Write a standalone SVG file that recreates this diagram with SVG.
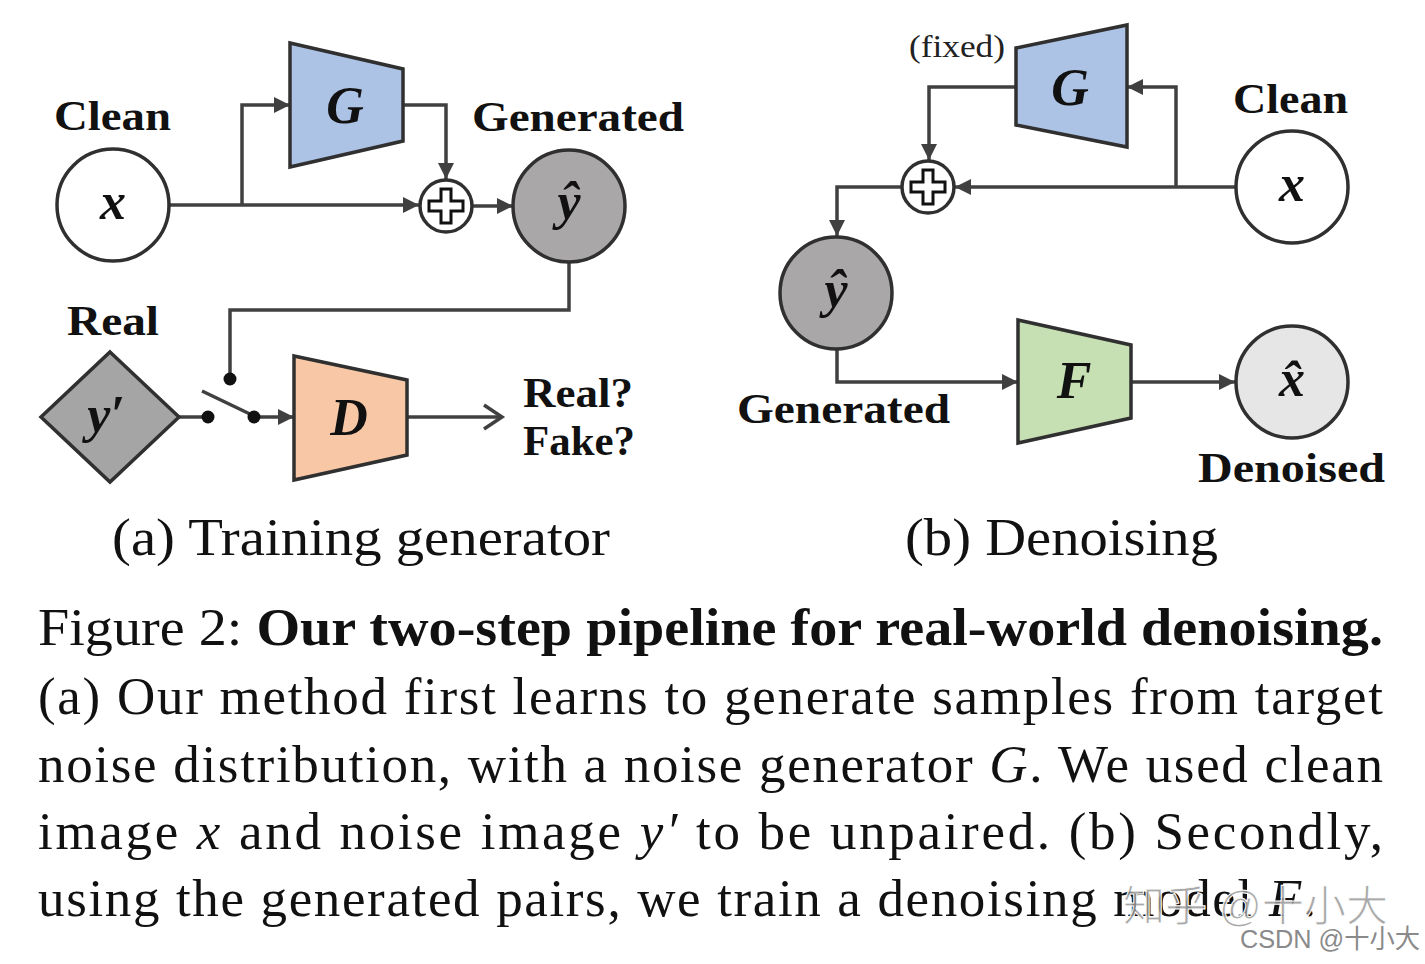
<svg xmlns="http://www.w3.org/2000/svg" width="1425" height="964" viewBox="0 0 1425 964">
<style>
.ln{fill:none;stroke:#404040;stroke-width:3.5}
.ar{fill:none;stroke:#404040;stroke-width:3.5;marker-end:url(#ah)}
.nd{stroke:#303030;stroke-width:3.5}
.lbl{font-family:"Liberation Serif",serif;font-weight:bold;font-size:42px;fill:#111}
.math{font-family:"Liberation Serif",serif;font-weight:bold;font-style:italic;font-size:52px;fill:#111;text-anchor:middle}
.sub{font-family:"Liberation Serif",serif;font-size:53px;fill:#111}
.cap{font-family:"Liberation Serif",serif;font-size:53px;fill:#111}
.it{font-style:italic}
.dot{fill:#111}
</style>
<defs>
<marker id="ah" markerUnits="userSpaceOnUse" markerWidth="18" markerHeight="18" refX="16" refY="8" orient="auto"><path d="M0,0 L16,8 L0,16 z" fill="#404040"/></marker>
<marker id="oh" markerUnits="userSpaceOnUse" markerWidth="24" markerHeight="30" refX="20" refY="14" orient="auto"><path d="M2,2 L20,14 L2,26" fill="none" stroke="#404040" stroke-width="3.5"/></marker>
<path id="plus" d="M-5,-17 H5 V-5 H17 V5 H5 V17 H-5 V5 H-17 V-5 H-5 z" fill="#fff" stroke="#111" stroke-width="3"/>
</defs>

<g id="connectors">
<path class="ar" d="M168,205 H419"/>
<path class="ar" d="M242,205 V105 H290"/>
<path class="ar" d="M403,105 H446 V179"/>
<path class="ar" d="M473,206 H513"/>
<path class="ln" d="M569,261 V310 H230 V378"/>
<path class="ln" d="M179,417 H208"/>
<path class="ln" d="M202,391 L252,415"/>
<path class="ar" d="M254,417 H294"/>
<path class="ln" d="M407,417 H502" marker-end="url(#oh)"/>
<path class="ar" d="M1237,187 H955"/>
<path class="ar" d="M1176,187 V87 H1127"/>
<path class="ar" d="M1016,87 H929 V160"/>
<path class="ar" d="M901,187 H837 V236"/>
<path class="ar" d="M837,349 V382 H1018"/>
<path class="ar" d="M1131,382 H1235"/>
</g>

<g id="dots">
<circle class="dot" cx="230" cy="379" r="6.5"/>
<circle class="dot" cx="208" cy="417" r="6.5"/>
<circle class="dot" cx="254" cy="417" r="6.5"/>
</g>

<g id="clean-a">
<text class="lbl" x="54" y="130" textLength="117" lengthAdjust="spacingAndGlyphs">Clean</text>
<circle class="nd" cx="113" cy="205" r="56" fill="#fff"/>
<text class="math" x="113" y="219">x</text>
</g>

<g id="G-a">
<path class="nd" d="M290,43 L403,69 L403,141 L290,167 z" fill="#adc3e6"/>
<text class="math" x="345" y="123">G</text>
</g>

<g id="plus-a">
<circle class="nd" cx="446" cy="206" r="26" fill="#fff"/>
<use href="#plus" x="446" y="206"/>
</g>

<g id="yhat-a">
<text class="lbl" x="472" y="131" textLength="212" lengthAdjust="spacingAndGlyphs">Generated</text>
<circle class="nd" cx="569" cy="206" r="56" fill="#a9a7a7"/>
<text class="math" x="569" y="219">ŷ</text>
</g>

<g id="real-a">
<text class="lbl" x="67" y="335" textLength="92" lengthAdjust="spacingAndGlyphs">Real</text>
<path class="nd" d="M110,352 L179,417 L110,482 L41,417 z" fill="#a5a5a5"/>
<text class="math" x="106" y="432">y′</text>
</g>

<g id="D-a">
<path class="nd" d="M294,356 L407,380 L407,455 L294,480 z" fill="#f8c8a6"/>
<text class="math" x="349" y="435">D</text>
<text class="lbl" x="523" y="407" textLength="110" lengthAdjust="spacingAndGlyphs">Real?</text>
<text class="lbl" x="523" y="455" textLength="112" lengthAdjust="spacingAndGlyphs">Fake?</text>
</g>

<g id="G-b">
<text x="909" y="57" font-family="Liberation Serif, serif" font-size="31" fill="#222" textLength="96" lengthAdjust="spacingAndGlyphs">(fixed)</text>
<path class="nd" d="M1016,48 L1127,25 L1127,147 L1016,125 z" fill="#adc3e6"/>
<text class="math" x="1070" y="105">G</text>
</g>

<g id="clean-b">
<text class="lbl" x="1233" y="113" textLength="115" lengthAdjust="spacingAndGlyphs">Clean</text>
<circle class="nd" cx="1292" cy="187" r="56" fill="#fff"/>
<text class="math" x="1292" y="201">x</text>
</g>

<g id="plus-b">
<circle class="nd" cx="928" cy="187" r="26" fill="#fff"/>
<use href="#plus" x="928" y="187"/>
</g>

<g id="yhat-b">
<circle class="nd" cx="836" cy="293" r="56" fill="#a9a7a7"/>
<text class="math" x="836" y="307">ŷ</text>
<text class="lbl" x="737" y="423" textLength="213" lengthAdjust="spacingAndGlyphs">Generated</text>
</g>

<g id="F-b">
<path class="nd" d="M1018,320 L1131,345 L1131,418 L1018,443 z" fill="#c6e0b4"/>
<text class="math" x="1074" y="398">F</text>
</g>

<g id="xhat-b">
<circle class="nd" cx="1292" cy="382" r="56" fill="#e6e6e6"/>
<text class="math" x="1292" y="396">x̂</text>
<text class="lbl" x="1198" y="482" textLength="187" lengthAdjust="spacingAndGlyphs">Denoised</text>
</g>

<g id="subcaptions">
<text class="sub" x="112" y="555" textLength="498" lengthAdjust="spacingAndGlyphs">(a) Training generator</text>
<text class="sub" x="905" y="555" textLength="313" lengthAdjust="spacingAndGlyphs">(b) Denoising</text>
</g>

<g id="caption">
<text class="cap" x="38" y="645" textLength="1345" lengthAdjust="spacingAndGlyphs">Figure 2: <tspan font-weight="bold">Our two-step pipeline for real-world denoising.</tspan></text>
<text class="cap" x="38" y="714" textLength="1345" lengthAdjust="spacing">(a) Our method first learns to generate samples from target</text>
<text class="cap" x="38" y="782" textLength="1345" lengthAdjust="spacing">noise distribution, with a noise generator <tspan class="it">G</tspan>. We used clean</text>
<text class="cap" x="38" y="849" textLength="1345" lengthAdjust="spacing">image <tspan class="it">x</tspan> and noise image <tspan class="it">y′</tspan> to be unpaired.  (b) Secondly,</text>
<text class="cap" x="38" y="916" textLength="1278" lengthAdjust="spacing">using the generated pairs, we train a denoising model <tspan class="it">F</tspan>.</text>
</g>

<g id="watermarks">
<text x="1123" y="921" font-family="Liberation Sans, Noto Sans CJK SC, sans-serif" font-size="42" fill="#9a9a9a" fill-opacity="0.85" stroke="#fff" stroke-width="1" textLength="265" lengthAdjust="spacingAndGlyphs">知乎 @十小大</text>
<text x="1240" y="948" font-family="Liberation Sans, Noto Sans CJK SC, sans-serif" font-size="26" fill="#8a8a8a" textLength="180" lengthAdjust="spacingAndGlyphs">CSDN @十小大</text>
</g>
</svg>
